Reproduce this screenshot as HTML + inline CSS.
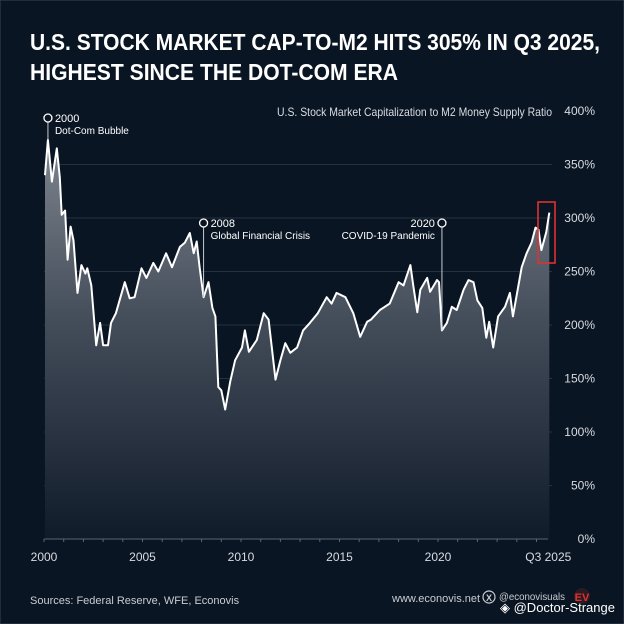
<!DOCTYPE html>
<html><head><meta charset="utf-8"><style>
html,body{margin:0;padding:0;background:#0a1523;}
svg{display:block;font-family:"Liberation Sans",sans-serif;}
</style></head><body>
<svg id="chart" width="624" height="624" viewBox="0 0 624 624" xmlns="http://www.w3.org/2000/svg">
<defs>
<linearGradient id="fillg" x1="0" y1="0" x2="0" y2="1">
<stop offset="0" stop-color="#7e858f"/>
<stop offset="0.45" stop-color="#444d5a"/>
<stop offset="1" stop-color="#101b2a"/>
</linearGradient>
</defs>
<rect x="0" y="0" width="624" height="624" fill="#0a1523" stroke="#3a4452" stroke-width="1"/>
<text x="30" y="50" fill="#ffffff" font-size="23" font-weight="bold" textLength="570" lengthAdjust="spacingAndGlyphs">U.S. STOCK MARKET CAP-TO-M2 HITS 305% IN Q3 2025,</text>
<text x="30" y="80" fill="#ffffff" font-size="23" font-weight="bold" textLength="368" lengthAdjust="spacingAndGlyphs">HIGHEST SINCE THE DOT-COM ERA</text>
<g id="grid"></g>
<g id="area"></g>
<g id="annot"></g>
<g id="axes"></g>
<text x="552" y="116" fill="#d8dce2" font-size="12" text-anchor="end" textLength="275" lengthAdjust="spacingAndGlyphs">U.S. Stock Market Capitalization to M2 Money Supply Ratio</text>
<rect x="538" y="202" width="17" height="61" fill="none" stroke="#e03030" stroke-width="1.6"/>
<text x="30" y="604" fill="#c8ccd2" font-size="11">Sources: Federal Reserve, WFE, Econovis</text>
<text x="392" y="602" fill="#c8ccd2" font-size="11">www.econovis.net</text>
<circle cx="489" cy="597" r="6" fill="none" stroke="#c8ccd2" stroke-width="1.2"/>
<text x="489" y="601" fill="#c8ccd2" font-size="9" font-weight="bold" text-anchor="middle">X</text>
<text x="499" y="600" fill="#c8ccd2" font-size="10.5" textLength="66" lengthAdjust="spacingAndGlyphs">@econovisuals</text>
<circle cx="582" cy="596" r="8" fill="#2a1a22"/>
<text x="582" y="601" fill="#e03030" font-size="11" font-weight="bold" text-anchor="middle">EV</text>
<text x="500" y="612" fill="#ffffff" font-size="13">◈ @Doctor-Strange</text>
</svg>
<script>
const years=[2000.05,2000.2,2000.4,2000.65,2000.8,2000.9,2001.07,2001.2,2001.35,2001.5,2001.7,2001.9,2002.1,2002.2,2002.4,2002.65,2002.85,2003.0,2003.25,2003.4,2003.65,2004.1,2004.35,2004.6,2004.95,2005.2,2005.55,2005.8,2006.2,2006.5,2006.9,2007.15,2007.4,2007.6,2007.75,2007.9,2008.1,2008.35,2008.55,2008.7,2008.85,2009.0,2009.2,2009.45,2009.7,2010.05,2010.2,2010.4,2010.8,2011.15,2011.4,2011.75,2012.0,2012.25,2012.5,2012.85,2013.15,2013.5,2013.9,2014.35,2014.6,2014.85,2015.3,2015.7,2016.05,2016.4,2016.6,2017.05,2017.55,2018.0,2018.25,2018.6,2018.75,2018.95,2019.1,2019.45,2019.6,2019.95,2020.05,2020.2,2020.45,2020.7,2020.95,2021.3,2021.55,2021.8,2022.0,2022.25,2022.45,2022.6,2022.8,2023.05,2023.4,2023.65,2023.8,2024.25,2024.5,2024.75,2024.95,2025.1,2025.25,2025.5,2025.65];
const ratio=[340,373,334,365,338,303,307,261,292,279,230,256,248,253,237,181,202,181,181,202,211,240,225,226,253,244,258,250,267,254,273,277,286,267,278,254,226,240,216,208,142,139,121,147,167,179,195,175,186,211,205,149,167,183,174,179,195,202,211,226,220,230,226,211,189,203,205,214,220,240,237,256,236,212,233,244,231,242,240,195,202,217,214,233,242,240,223,216,188,203,179,208,217,230,208,254,267,277,291,289,270,287,305];
const yTicks=[0,50,100,150,200,250,300,350,400];
const xTickLabels=["2000","2005","2010","2015","2020","Q3 2025"];
const xTickYears=[2000,2005,2010,2015,2020,2025.6];
const events=[{year:2000.2,label:"2000",sub:"Dot-Com Bubble",val:373,side:"right"},{year:2008.1,label:"2008",sub:"Global Financial Crisis",val:226,side:"right"},{year:2020.2,label:"2020",sub:"COVID-19 Pandemic",val:195,side:"left"}];
const NS="http://www.w3.org/2000/svg";
const x=v=>44+(v-2000)*19.7;
const y=v=>539-v*1.07;
function mk(tag,attrs,parent){const e=document.createElementNS(NS,tag);for(const k in attrs)e.setAttribute(k,attrs[k]);parent.appendChild(e);return e;}
const grid=document.getElementById('grid'),area=document.getElementById('area'),annot=document.getElementById('annot'),axes=document.getElementById('axes');
yTicks.forEach(t=>{
 if(t>0&&t<400){const l=mk('line',{x1:44,x2:552,y1:y(t),y2:y(t),stroke:'#263140','stroke-width':1},grid);
 
 }
 const tx=mk('text',{x:595,y:y(t)+4,fill:'#d8dce2','font-size':12,'text-anchor':'end'},axes);
 tx.textContent=t+'%';
 
 
});
let pts=years.map((yr,i)=>x(yr).toFixed(1)+','+y(ratio[i]).toFixed(1));
const fillP=mk('path',{d:'M'+x(years[0])+','+y(0)+' L'+pts.join(' L')+' L'+x(years[years.length-1])+','+y(0)+' Z',fill:'url(#fillg)'},area);


const line=mk('path',{d:'M'+pts.join(' L'),fill:'none',stroke:'#ffffff','stroke-width':2,'stroke-linejoin':'round'},area);


const base=mk('line',{x1:44,x2:548,y1:y(0),y2:y(0),stroke:'#5a6472','stroke-width':1},axes);


for(let yr=2000;yr<=2025;yr++){const tk=mk('line',{x1:x(yr),x2:x(yr),y1:y(0),y2:y(0)+3,stroke:'#5a6472','stroke-width':1},axes);
 
 }
xTickLabels.forEach((lab,i)=>{const t=mk('text',{x:x(xTickYears[i]),y:561,fill:'#d8dce2','font-size':12,'text-anchor':'middle'},axes);
 t.textContent=lab;
 
 });
events.forEach(ev=>{
 const cx=x(ev.year),cy=ev.label==="2000"?118:223;
 const l=mk('line',{x1:cx,x2:cx,y1:cy+4,y2:y(ev.val),stroke:'#c8ccd2','stroke-width':1},annot);
 
 
 const c=mk('circle',{cx:cx,cy:cy,r:4,fill:'#0a1523',stroke:'#ffffff','stroke-width':1.3},annot);
 
 
 const anchor=ev.side==='right'?'start':'end',tx=ev.side==='right'?cx+7:cx-7;
 const t1=mk('text',{x:tx,y:cy+4,fill:'#ffffff','font-size':11,'text-anchor':anchor},annot);
 t1.textContent=ev.label;
 
 
 const t2=mk('text',{x:tx,y:cy+16,fill:'#ffffff','font-size':10,'text-anchor':anchor},annot);
 t2.textContent=ev.sub;
 
 
});
</script>
</body></html>
